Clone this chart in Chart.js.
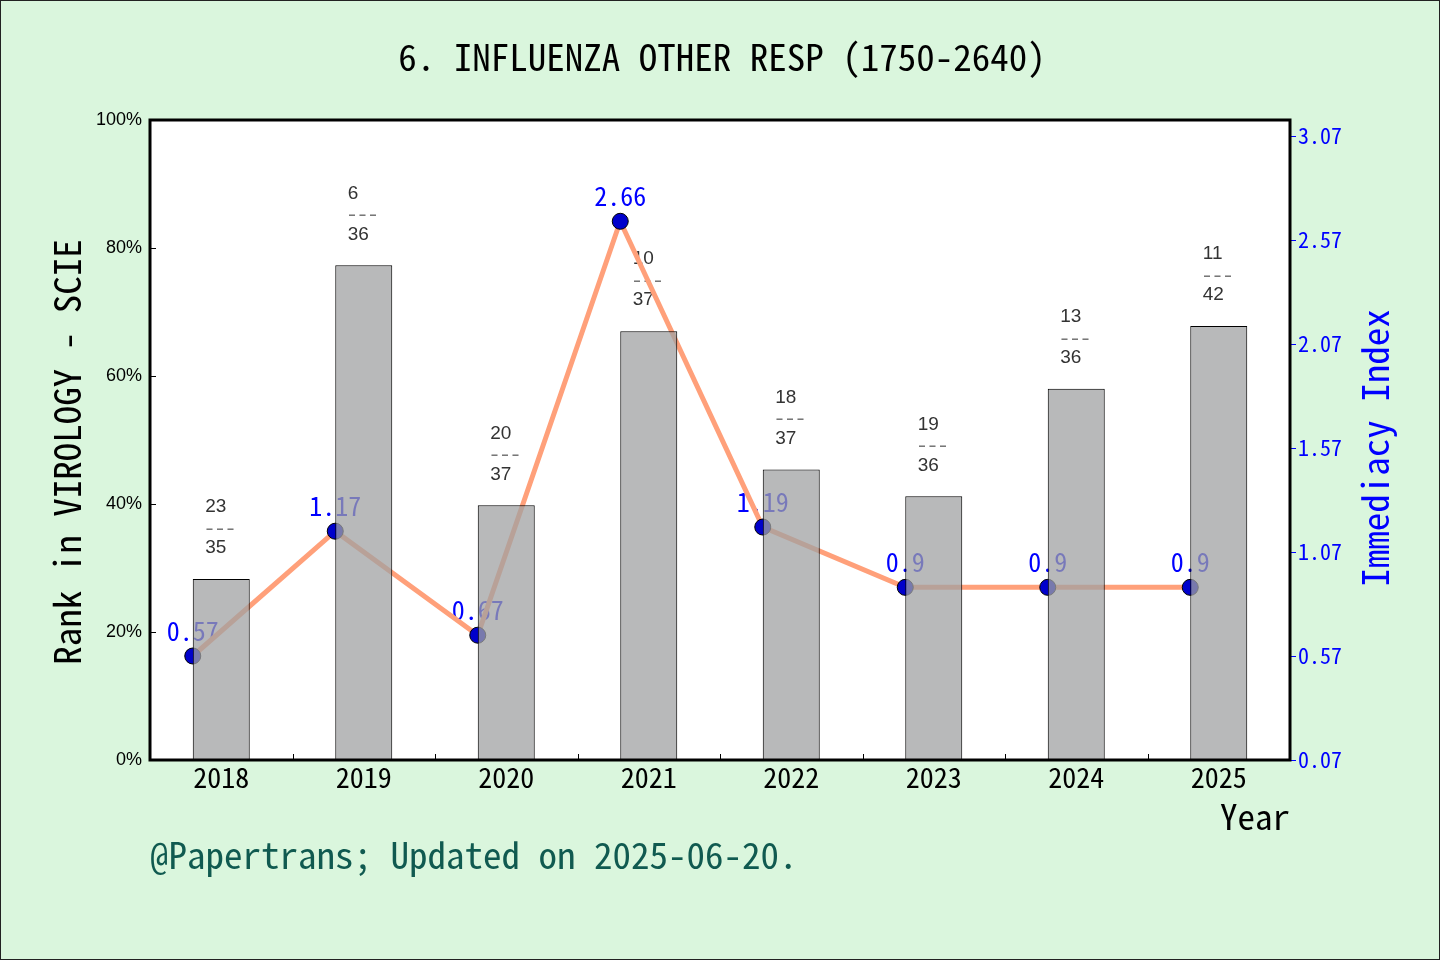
<!DOCTYPE html>
<html>
<head>
<meta charset="utf-8">
<script src="https://cdn.jsdelivr.net/npm/chart.js@4.4.1/dist/chart.umd.min.js"></script>
<style>
  html, body { margin: 0; padding: 0; background: #daf6dd; }
  canvas { display: block; }
</style>
</head>
<body>
<canvas id="chart" width="1440" height="960"></canvas>
<script>
"use strict";

// data
const years = ['2018', '2019', '2020', '2021', '2022', '2023', '2024', '2025'];
const ranks = [23, 6, 20, 10, 18, 19, 13, 11];
const totals = [35, 36, 37, 37, 37, 36, 36, 42];
const rankPct = [28.3, 77.3, 39.8, 67.0, 45.4, 41.2, 58.0, 67.8];
const immediacy = [0.57, 1.17, 0.67, 2.66, 1.19, 0.9, 0.9, 0.9];
const leftTicks = [0, 20, 40, 60, 80, 100];
const rightTicks = [0.07, 0.57, 1.07, 1.57, 2.07, 2.57, 3.07];

const MONO = '"Noto Sans Mono CJK SC", "DejaVu Sans Mono", monospace';
const SANS = '"Liberation Sans", Arial, sans-serif';
const BG = '#daf6dd';

const decorPlugin = {
    id: 'decor',
    beforeDraw(chart) {
        const {ctx, chartArea: a} = chart;
        ctx.save();
        ctx.fillStyle = BG;
        ctx.fillRect(0, 0, chart.width, chart.height);
        ctx.fillStyle = '#ffffff';
        ctx.fillRect(a.left, a.top, a.right - a.left, a.bottom - a.top);
        ctx.restore();
    },
    beforeDatasetsDraw(chart) {
        // labels go under the bars, like the reference
        const ctx = chart.ctx;
        const bars = chart.getDatasetMeta(0).data;
        const pts = chart.getDatasetMeta(1).data;
        ctx.save();
        ctx.textBaseline = 'middle';
        bars.forEach((bar, i) => {
            const lx = bar.x - 16;
            ctx.fillStyle = '#333333';
            ctx.textAlign = 'left';
            ctx.font = '19px ' + SANS;
            ctx.fillText(String(ranks[i]), lx, bar.y - 72);
            ctx.fillText(String(totals[i]), lx, bar.y - 31);
            ctx.fillStyle = '#777777';
            ctx.font = '21px ' + MONO;
            ctx.fillText('---', lx - 1, bar.y - 52);
        });
        ctx.fillStyle = '#0000ff';
        ctx.textAlign = 'center';
        ctx.font = '26px ' + MONO;
        pts.forEach((p, i) => {
            ctx.fillText(String(immediacy[i]), p.x, p.y - 25);
        });
        ctx.restore();
    },
    afterDatasetsDraw(chart) {
        const {ctx, chartArea: a} = chart;
        const y = chart.scales.y, y1 = chart.scales.y1, x = chart.scales.x;
        ctx.save();
        ctx.lineWidth = 1;
        // inward ticks on left axis
        ctx.strokeStyle = '#000000';
        y.ticks.forEach(t => {
            const py = Math.round(y.getPixelForValue(t.value)) + 0.5;
            ctx.beginPath();
            ctx.moveTo(a.left, py);
            ctx.lineTo(a.left + 6, py);
            ctx.stroke();
        });
        // ticks between categories on the x axis
        for (let i = 1; i < years.length; i++) {
            const px = Math.round((x.getPixelForValue(i - 1) + x.getPixelForValue(i)) / 2) + 0.5;
            ctx.beginPath();
            ctx.moveTo(px, a.bottom);
            ctx.lineTo(px, a.bottom - 6);
            ctx.stroke();
        }
        // outward ticks on right axis
        ctx.strokeStyle = '#0000ff';
        y1.ticks.forEach(t => {
            const py = Math.round(y1.getPixelForValue(t.value)) + 0.5;
            ctx.beginPath();
            ctx.moveTo(a.right, py);
            ctx.lineTo(a.right + 6, py);
            ctx.stroke();
        });
        // plot frame
        ctx.strokeStyle = '#000000';
        ctx.lineWidth = 3;
        ctx.strokeRect(a.left, a.top, a.right - a.left, a.bottom - a.top);
        ctx.restore();
    },
    afterDraw(chart) {
        const {ctx, chartArea: a} = chart;
        ctx.save();
        ctx.textBaseline = 'middle';
        ctx.fillStyle = '#000000';
        ctx.textAlign = 'center';
        ctx.font = '37px ' + MONO;
        ctx.fillText('6. INFLUENZA OTHER RESP (1750-2640)', 722, 57);

        ctx.textAlign = 'right';
        ctx.font = '35px ' + MONO;
        ctx.fillText('Year', a.right, 817);

        ctx.textAlign = 'left';
        ctx.fillStyle = '#105a50';
        ctx.font = '37px ' + MONO;
        ctx.fillText('@Papertrans; Updated on 2025-06-20.', a.left, 855);

        ctx.save();
        ctx.translate(67, (a.top + a.bottom) / 2 + 12);
        ctx.rotate(-Math.PI / 2);
        ctx.textAlign = 'center';
        ctx.fillStyle = '#000000';
        ctx.font = '37px ' + MONO;
        ctx.fillText('Rank in VIROLOGY - SCIE', 0, 0);
        ctx.restore();

        ctx.save();
        ctx.translate(1375, 448);
        ctx.rotate(-Math.PI / 2);
        ctx.textAlign = 'center';
        ctx.fillStyle = '#0000ff';
        ctx.font = '37px ' + MONO;
        ctx.fillText('Immediacy Index', 0, 0);
        ctx.restore();

        // thin outer frame
        ctx.strokeStyle = '#222222';
        ctx.lineWidth = 1;
        ctx.strokeRect(0.5, 0.5, chart.width - 1, chart.height - 1);
        ctx.restore();
    }
};

const chart = new Chart(document.getElementById('chart').getContext('2d'), {
    type: 'bar',
    data: {
        labels: years,
        datasets: [{
            type: 'bar',
            label: 'Rank',
            data: rankPct,
            xAxisID: 'x',
            yAxisID: 'y',
            grouped: false,
            backgroundColor: 'rgba(160, 161, 163, 0.75)',
            borderColor: '#000000',
            borderWidth: 1,
            barPercentage: 0.4,
            categoryPercentage: 1.0,
            order: 0,
        }, {
            type: 'line',
            label: 'Immediacy Index',
            data: immediacy.map((v, i) => ({x: i - 0.2, y: v})),
            xAxisID: 'x2',
            yAxisID: 'y1',
            borderColor: '#ffa07a',
            borderWidth: 5,
            tension: 0,
            pointRadius: 8,
            pointBackgroundColor: '#0000cc',
            pointBorderColor: '#000000',
            pointBorderWidth: 1,
            order: 1,
        }]
    },
    options: {
        responsive: false,
        animation: false,
        devicePixelRatio: 1,
        layout: {
            padding: {top: 120, left: 0, right: 0, bottom: 0}
        },
        plugins: {
            legend: {display: false},
            title: {display: false},
            tooltip: {enabled: false},
        },
        scales: {
            x: {
                type: 'category',
                offset: true,
                grid: {display: false, drawTicks: false},
                border: {display: false},
                ticks: {
                    color: '#000000',
                    font: {family: MONO, size: 28},
                    padding: 1,
                    maxRotation: 0,
                },
                afterFit(scale) { scale.height = 200; },
            },
            x2: {
                type: 'linear',
                display: false,
                offset: false,
                bounds: 'data',
                min: -0.5,
                max: years.length - 0.5,
            },
            y: {
                position: 'left',
                min: 0,
                max: 100,
                grid: {display: false, drawTicks: false},
                border: {display: false},
                afterBuildTicks(scale) { scale.ticks = leftTicks.map(v => ({value: v})); },
                ticks: {
                    color: '#000000',
                    font: {family: SANS, size: 18},
                    padding: 8,
                    callback: v => v + '%',
                },
                afterFit(scale) { scale.width = 150; },
            },
            y1: {
                position: 'right',
                min: 0.07,
                max: 3.147,
                grid: {display: false, drawTicks: false},
                border: {display: false},
                afterBuildTicks(scale) { scale.ticks = rightTicks.map(v => ({value: v})); },
                ticks: {
                    color: '#0000ff',
                    font: {family: MONO, size: 22},
                    padding: 8,
                    callback: v => Number(v).toFixed(2),
                },
                afterFit(scale) { scale.width = 150; },
            }
        }
    },
    plugins: [decorPlugin]
});
</script>
</body>
</html>
